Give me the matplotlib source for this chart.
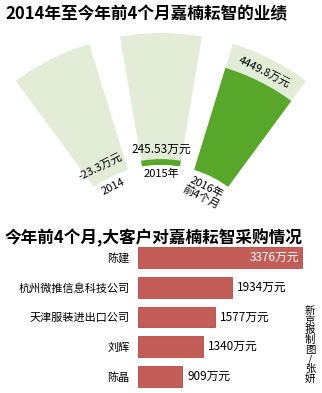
import numpy as np
import matplotlib
matplotlib.use("Agg")
import matplotlib.pyplot as plt

plt.rcParams["font.family"] = ["Noto Sans CJK SC", "DejaVu Sans"]

# fan chart: results
years = ["2014", "2015年", "2016年\n前4个月"]
results = [-23.3, 245.53, 4449.8]
result_labels = ["-23.3万元", "245.53万元", "4449.8万元"]

# bar chart: big customers
customers = ["陈建", "杭州微推信息科技公司", "天津服装进出口公司", "刘辉", "陈晶"]
purchases = [3376, 1934, 1577, 1340, 909]

LIGHT = "#e2ecd7"
DARK = "#58a72a"
RED = "#c25d57"

W, H = 322, 393
fig = plt.figure(figsize=(W / 100, H / 100), dpi=100)

# ---- fan (polar) ----
cx, cy = 161, H - 278      # centre of the fan in px (from bottom)
r_out, r_in = 245, 113     # outer / inner radius in px
rmax = 5500
rorigin = -rmax * r_in / (r_out - r_in)

pax = fig.add_axes([(cx - r_out) / W, (cy - r_out) / H, 2 * r_out / W, 2 * r_out / H],
                   projection="polar")
pax.set_rorigin(rorigin)
pax.set_ylim(0, rmax)
pax.set_axis_off()

step = np.deg2rad(26.7)
width = np.deg2rad(19.3)
thetas = np.pi / 2 + (1 - np.arange(len(years))) * step

pax.bar(thetas, rmax, width=width, bottom=0, color=LIGHT, linewidth=0)
pax.bar(thetas[1:], results[1:], width=width, bottom=0, color=DARK, linewidth=0)
# negative value: thin line on the inner edge
pax.bar(thetas[0], results[0] * 8, width=width * 0.9, bottom=0, color="#c9ddb6", linewidth=0)


def px2r(p):
    return p / r_out * (rmax - rorigin) + rorigin


def rot(t):
    return np.rad2deg(t) - 90


# value labels
pax.text(thetas[0] + np.deg2rad(2), px2r(126), result_labels[0], rotation=rot(thetas[0]),
         ha="center", va="center", fontsize=8, rotation_mode="anchor")
pax.text(thetas[1], px2r(129), result_labels[1], ha="center", va="center", fontsize=8.5)
pax.text(thetas[2], px2r(229), result_labels[2], rotation=rot(thetas[2]),
         ha="center", va="center", fontsize=8, rotation_mode="anchor")
# year labels
pax.text(thetas[0] + np.deg2rad(1), px2r(103), years[0], rotation=rot(thetas[0]),
         ha="center", va="center", fontsize=8, rotation_mode="anchor")
pax.text(thetas[1], px2r(104), years[1], ha="center", va="center", fontsize=8)
pax.text(thetas[2], px2r(96), years[2], rotation=rot(thetas[2]),
         ha="center", va="center", fontsize=8, rotation_mode="anchor", linespacing=1.15)

# ---- bars ----
bax = fig.add_axes([138 / W, 1.6 / H, 170 / W, 148.8 / H])
y = np.arange(len(customers))
bax.barh(y, purchases, height=0.7, color=RED, edgecolor="#b04a45", linewidth=0.6)
bax.set_xlim(0, 3500)
bax.set_ylim(4.5, -0.5)
for s in bax.spines.values():
    s.set_visible(False)
bax.set_xticks([])
bax.set_yticks(y)
bax.set_yticklabels(customers, fontsize=8)
bax.tick_params(axis="y", length=0, pad=6)
for i, v in enumerate(purchases):
    if i == 0:
        bax.text(v - 60, i, f"{v}万元", ha="right", va="center", color="white", fontsize=8.5)
    else:
        bax.text(v + 100, i, f"{v}万元", ha="left", va="center", fontsize=8.5)

# ---- titles & credit ----
fig.text(5 / W, 1 - 14 / H, "2014年至今年前4个月嘉楠耘智的业绩", fontsize=12,
         fontweight="bold", ha="left", va="center")
fig.text(5 / W, 1 - 238 / H, "今年前4个月,大客户对嘉楠耘智采购情况", fontsize=12,
         fontweight="bold", ha="left", va="center")
fig.text(310 / W, 1 - 345 / H, "\n".join("新京报制图/张妍"), fontsize=7.5,
         ha="center", va="center", linespacing=0.95)

fig.savefig("out.png", dpi=100)
